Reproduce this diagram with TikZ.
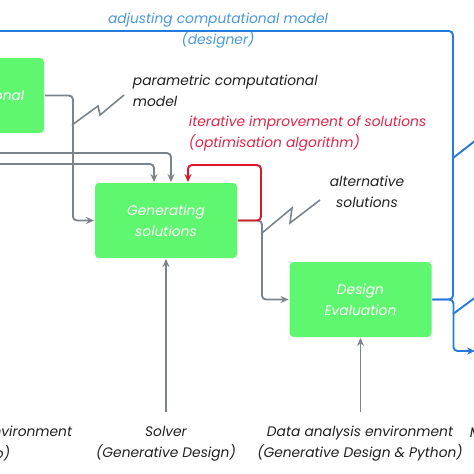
\documentclass[tikz,border=0pt]{standalone}
\usepackage{fontspec}
\setmainfont{Poppins}
\usepackage{tikz}
\usetikzlibrary{positioning, calc}
\usetikzlibrary{arrows.meta}
\definecolor{boxgreen}{RGB}{96,247,112}
\definecolor{linegrey}{RGB}{122,132,138}
\definecolor{lineblue}{RGB}{38,122,222}
\definecolor{textblue}{RGB}{72,152,222}
\definecolor{linered}{RGB}{222,22,44}
\definecolor{textred}{RGB}{224,36,72}
\definecolor{textdark}{RGB}{32,32,32}
\begin{document}
\begin{tikzpicture}[x=1pt,y=-1pt,line width=1.9pt,font=\fontsize{13.8}{21}\selectfont\itshape]

	\useasboundingbox (0,0) rectangle (474,474);
	\tikzstyle{g-box}=[fill=boxgreen,rounded corners=4pt,minimum width=142pt,minimum height=75pt,text=white,align=center,inner sep=0pt]
	\tikzstyle{annot}=[text=textdark,inner sep=0pt]
	\tikzstyle{g-line}=[draw=linegrey,rounded corners=4pt]
	\tikzstyle{r-line}=[draw=linered,rounded corners=4pt]
	\tikzstyle{b-line}=[draw=lineblue,rounded corners=4pt]
	\tikzstyle{tip}=[-{Stealth[length=8pt,width=7pt]}]

	% boxes
	\node[g-box] (modelbox) at (-27,95.5) {Initial\\computational\\model};
	\node[g-box] (genbox)   at (166,220.5) {Generating\\solutions};
	\node[g-box] (evalbox)  at (360.5,299.5) {Design\\Evaluation};

	% labels
	\node[annot,anchor=west,align=left] (paramlabel) at (132,90.5) {parametric computational\\model};
	\node[annot,text=textred,anchor=west,align=left] (iterlabel) at (188,133.5) {iterative improvement of solutions\\(optimisation algorithm)};
	\node[annot,text=textblue,align=center] (adjlabel) at (218,31) {adjusting computational model\\(designer)};
	\node[annot,align=center] (altlabel) at (367,191.5) {alternative\\solutions};
	\node[annot,align=center] (solverlabel) at (166,443.5) {Solver\\(Generative Design)};
	\node[annot,align=center] (datalabel) at (360,443.5) {Data analysis environment\\(Generative Design \& Python)};
	\node[annot,anchor=east] (modlabel) at (73,433) {Modelling environment};
	\node[annot,anchor=east] (modlabelb) at (11,454) {(Dynamo)};
	\node[annot,anchor=west] (mlabel) at (469,433) {M};

	% free ends
	\coordinate (inA) at (-5,153);
	\coordinate (inB) at (-5,164);
	\coordinate (redtop) at (261,165);
	\coordinate (bluetop) at (453,31);
	\coordinate (blueout) at (-5,31);
	\coordinate (bluetip) at (475,351);
	\coordinate (solverfoot) at (166,412);
	\coordinate (datafoot) at (360.5,412);

	% grey connectors
	\draw[g-line,tip] (modelbox.east) -- ++(28,0) |- (genbox.west);
	\draw[g-line,tip] (inA) -| ([xshift=5pt]genbox.north);
	\draw[g-line,tip] (inB) -| ([xshift=-12pt]genbox.north);
	\draw[g-line,tip] (genbox.east) -- ++(24,0) |- (evalbox.west);
	\draw[g-line,tip] (solverfoot) -- (genbox.south);
	\draw[g-line,tip] (datafoot) -- (evalbox.south);

	% red loop
	\draw[r-line,tip] (genbox.east) -| (redtop) -| ([xshift=22pt]genbox.north);

	% blue feedback
	\draw[b-line] (evalbox.east) -| (bluetop) -- (blueout);
	\draw[b-line,tip] (evalbox.east) -- ++(21,0) |- (bluetip);
	\draw[draw=lineblue] (453,158) -- (480,137);
	\draw[draw=lineblue] (453,314) -- (480,294);

	% zigzag links
	\draw[draw=linegrey,line width=1.6pt] (72,125) -- (98,106) -- (100,115) -- (124,95);
	\draw[draw=linegrey,line width=1.6pt] (262,233) -- (292,208) -- (290,223) -- (320,200);
\end{tikzpicture}
\end{document}
